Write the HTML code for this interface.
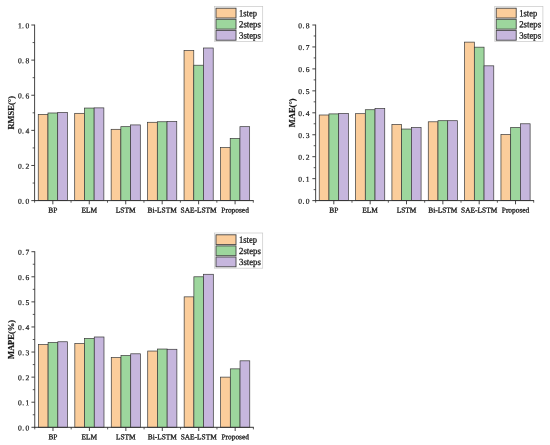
<!DOCTYPE html>
<html lang="en"><head><meta charset="utf-8"><title>Prediction error comparison</title>
<style>
html,body{margin:0;padding:0;background:#fff;}
body{width:550px;height:445px;overflow:hidden;}
svg{display:block;}
text{font-family:"Liberation Serif",serif;fill:#1a1a1a;stroke:#1a1a1a;stroke-width:0.22px;}
.tk{font-size:7.55px;}
.cat{font-size:7.4px;stroke-width:0.3px;}
.ttl{font-size:8.5px;font-weight:bold;stroke-width:0.2px;}
.lg{font-size:9.3px;stroke-width:0.3px;}
</style></head>
<body>
<svg width="550" height="445" viewBox="0 0 550 445">
<rect width="550" height="445" fill="#ffffff"/>
<rect x="38.25" y="114.38" width="9.72" height="86.22" fill="#FBCD9B" stroke="#383838" stroke-width="0.7"/>
<rect x="47.97" y="112.98" width="9.72" height="87.62" fill="#9DD69D" stroke="#383838" stroke-width="0.7"/>
<rect x="57.69" y="112.45" width="9.72" height="88.15" fill="#C6B6DD" stroke="#383838" stroke-width="0.7"/>
<rect x="74.70" y="113.33" width="9.72" height="87.27" fill="#FBCD9B" stroke="#383838" stroke-width="0.7"/>
<rect x="84.42" y="108.06" width="9.72" height="92.54" fill="#9DD69D" stroke="#383838" stroke-width="0.7"/>
<rect x="94.14" y="107.88" width="9.72" height="92.72" fill="#C6B6DD" stroke="#383838" stroke-width="0.7"/>
<rect x="111.14" y="129.31" width="9.72" height="71.29" fill="#FBCD9B" stroke="#383838" stroke-width="0.7"/>
<rect x="120.86" y="126.67" width="9.72" height="73.93" fill="#9DD69D" stroke="#383838" stroke-width="0.7"/>
<rect x="130.59" y="124.92" width="9.72" height="75.68" fill="#C6B6DD" stroke="#383838" stroke-width="0.7"/>
<rect x="147.60" y="122.28" width="9.72" height="78.32" fill="#FBCD9B" stroke="#383838" stroke-width="0.7"/>
<rect x="157.32" y="121.76" width="9.72" height="78.84" fill="#9DD69D" stroke="#383838" stroke-width="0.7"/>
<rect x="167.04" y="121.58" width="9.72" height="79.02" fill="#C6B6DD" stroke="#383838" stroke-width="0.7"/>
<rect x="184.05" y="50.46" width="9.72" height="150.14" fill="#FBCD9B" stroke="#383838" stroke-width="0.7"/>
<rect x="193.77" y="65.21" width="9.72" height="135.39" fill="#9DD69D" stroke="#383838" stroke-width="0.7"/>
<rect x="203.49" y="48.00" width="9.72" height="152.60" fill="#C6B6DD" stroke="#383838" stroke-width="0.7"/>
<rect x="220.50" y="147.57" width="9.72" height="53.03" fill="#FBCD9B" stroke="#383838" stroke-width="0.7"/>
<rect x="230.22" y="138.44" width="9.72" height="62.16" fill="#9DD69D" stroke="#383838" stroke-width="0.7"/>
<rect x="239.94" y="126.67" width="9.72" height="73.93" fill="#C6B6DD" stroke="#383838" stroke-width="0.7"/>
<line x1="34.6" y1="24.6" x2="34.6" y2="201.04999999999998" stroke="#303030" stroke-width="0.9"/>
<line x1="34.15" y1="200.6" x2="253.70000000000002" y2="200.6" stroke="#333" stroke-width="1.0"/>
<line x1="31.3" y1="200.60" x2="34.6" y2="200.60" stroke="#303030" stroke-width="0.9"/>
<line x1="32.6" y1="183.04" x2="34.6" y2="183.04" stroke="#303030" stroke-width="0.8"/>
<text class="tk" transform="rotate(0.04 17.90 203.75)" x="17.90 22.10 25.40" y="203.75">0.0</text>
<line x1="31.3" y1="165.48" x2="34.6" y2="165.48" stroke="#303030" stroke-width="0.9"/>
<line x1="32.6" y1="147.92" x2="34.6" y2="147.92" stroke="#303030" stroke-width="0.8"/>
<text class="tk" transform="rotate(0.04 17.90 168.63)" x="17.90 22.10 25.40" y="168.63">0.2</text>
<line x1="31.3" y1="130.36" x2="34.6" y2="130.36" stroke="#303030" stroke-width="0.9"/>
<line x1="32.6" y1="112.80" x2="34.6" y2="112.80" stroke="#303030" stroke-width="0.8"/>
<text class="tk" transform="rotate(0.04 17.90 133.51)" x="17.90 22.10 25.40" y="133.51">0.4</text>
<line x1="31.3" y1="95.24" x2="34.6" y2="95.24" stroke="#303030" stroke-width="0.9"/>
<line x1="32.6" y1="77.68" x2="34.6" y2="77.68" stroke="#303030" stroke-width="0.8"/>
<text class="tk" transform="rotate(0.04 17.90 98.39)" x="17.90 22.10 25.40" y="98.39">0.6</text>
<line x1="31.3" y1="60.12" x2="34.6" y2="60.12" stroke="#303030" stroke-width="0.9"/>
<line x1="32.6" y1="42.56" x2="34.6" y2="42.56" stroke="#303030" stroke-width="0.8"/>
<text class="tk" transform="rotate(0.04 17.90 63.27)" x="17.90 22.10 25.40" y="63.27">0.8</text>
<line x1="31.3" y1="25.00" x2="34.6" y2="25.00" stroke="#303030" stroke-width="0.9"/>
<text class="tk" transform="rotate(0.04 17.90 28.15)" x="17.90 22.10 25.40" y="28.15">1.0</text>
<line x1="34.60" y1="200.6" x2="34.60" y2="202.7" stroke="#333" stroke-width="0.8"/>
<line x1="71.05" y1="200.6" x2="71.05" y2="202.7" stroke="#333" stroke-width="0.8"/>
<line x1="107.50" y1="200.6" x2="107.50" y2="202.7" stroke="#333" stroke-width="0.8"/>
<line x1="143.95" y1="200.6" x2="143.95" y2="202.7" stroke="#333" stroke-width="0.8"/>
<line x1="180.40" y1="200.6" x2="180.40" y2="202.7" stroke="#333" stroke-width="0.8"/>
<line x1="216.85" y1="200.6" x2="216.85" y2="202.7" stroke="#333" stroke-width="0.8"/>
<line x1="253.30" y1="200.6" x2="253.30" y2="202.7" stroke="#333" stroke-width="0.8"/>
<line x1="52.83" y1="200.6" x2="52.83" y2="204.29999999999998" stroke="#333" stroke-width="0.9"/>
<text class="cat" transform="rotate(0.04 52.83 212.50)" x="52.83" y="212.50" text-anchor="middle">BP</text>
<line x1="89.28" y1="200.6" x2="89.28" y2="204.29999999999998" stroke="#333" stroke-width="0.9"/>
<text class="cat" transform="rotate(0.04 89.28 212.50)" x="89.28" y="212.50" text-anchor="middle">ELM</text>
<line x1="125.72" y1="200.6" x2="125.72" y2="204.29999999999998" stroke="#333" stroke-width="0.9"/>
<text class="cat" transform="rotate(0.04 125.72 212.50)" x="125.72" y="212.50" text-anchor="middle">LSTM</text>
<line x1="162.18" y1="200.6" x2="162.18" y2="204.29999999999998" stroke="#333" stroke-width="0.9"/>
<text class="cat" transform="rotate(0.04 162.18 212.50)" x="162.18" y="212.50" text-anchor="middle">Bi-LSTM</text>
<line x1="198.62" y1="200.6" x2="198.62" y2="204.29999999999998" stroke="#333" stroke-width="0.9"/>
<text class="cat" transform="rotate(0.04 198.62 212.50)" x="198.62" y="212.50" text-anchor="middle">SAE-LSTM</text>
<line x1="235.08" y1="200.6" x2="235.08" y2="204.29999999999998" stroke="#333" stroke-width="0.9"/>
<text class="cat" transform="rotate(0.04 235.08 212.50)" x="235.08" y="212.50" text-anchor="middle">Proposed</text>
<text class="ttl" transform="translate(13.90,112.80) rotate(-90)" text-anchor="middle">RMSE(°)</text>
<rect x="214.5" y="6.4" width="48.2" height="35.2" fill="#fff" stroke="#c8c8c8" stroke-width="0.7"/>
<rect x="216.00" y="8.20" width="20" height="9.8" fill="#FBCD9B" stroke="#444" stroke-width="0.9"/>
<text class="lg" transform="rotate(0.04 239.00 16.20)" x="239.00" y="16.20" textLength="18.0" lengthAdjust="spacingAndGlyphs">1step</text>
<rect x="216.00" y="19.30" width="20" height="9.8" fill="#9DD69D" stroke="#444" stroke-width="0.9"/>
<text class="lg" transform="rotate(0.04 239.00 27.30)" x="239.00" y="27.30" textLength="21.9" lengthAdjust="spacingAndGlyphs">2steps</text>
<rect x="216.00" y="30.40" width="20" height="9.8" fill="#C6B6DD" stroke="#444" stroke-width="0.9"/>
<text class="lg" transform="rotate(0.04 239.00 38.40)" x="239.00" y="38.40" textLength="21.9" lengthAdjust="spacingAndGlyphs">3steps</text>
<rect x="319.24" y="115.00" width="9.72" height="85.60" fill="#FBCD9B" stroke="#383838" stroke-width="0.7"/>
<rect x="328.96" y="113.90" width="9.72" height="86.70" fill="#9DD69D" stroke="#383838" stroke-width="0.7"/>
<rect x="338.68" y="113.46" width="9.72" height="87.14" fill="#C6B6DD" stroke="#383838" stroke-width="0.7"/>
<rect x="355.58" y="113.68" width="9.72" height="86.92" fill="#FBCD9B" stroke="#383838" stroke-width="0.7"/>
<rect x="365.30" y="109.73" width="9.72" height="90.87" fill="#9DD69D" stroke="#383838" stroke-width="0.7"/>
<rect x="375.02" y="108.41" width="9.72" height="92.19" fill="#C6B6DD" stroke="#383838" stroke-width="0.7"/>
<rect x="391.92" y="124.43" width="9.72" height="76.17" fill="#FBCD9B" stroke="#383838" stroke-width="0.7"/>
<rect x="401.64" y="129.04" width="9.72" height="71.56" fill="#9DD69D" stroke="#383838" stroke-width="0.7"/>
<rect x="411.36" y="127.51" width="9.72" height="73.09" fill="#C6B6DD" stroke="#383838" stroke-width="0.7"/>
<rect x="428.27" y="121.80" width="9.72" height="78.80" fill="#FBCD9B" stroke="#383838" stroke-width="0.7"/>
<rect x="437.99" y="120.70" width="9.72" height="79.90" fill="#9DD69D" stroke="#383838" stroke-width="0.7"/>
<rect x="447.71" y="120.70" width="9.72" height="79.90" fill="#C6B6DD" stroke="#383838" stroke-width="0.7"/>
<rect x="464.61" y="42.12" width="9.72" height="158.48" fill="#FBCD9B" stroke="#383838" stroke-width="0.7"/>
<rect x="474.33" y="47.17" width="9.72" height="153.43" fill="#9DD69D" stroke="#383838" stroke-width="0.7"/>
<rect x="484.05" y="65.83" width="9.72" height="134.77" fill="#C6B6DD" stroke="#383838" stroke-width="0.7"/>
<rect x="500.95" y="134.53" width="9.72" height="66.07" fill="#FBCD9B" stroke="#383838" stroke-width="0.7"/>
<rect x="510.67" y="127.51" width="9.72" height="73.09" fill="#9DD69D" stroke="#383838" stroke-width="0.7"/>
<rect x="520.39" y="123.78" width="9.72" height="76.82" fill="#C6B6DD" stroke="#383838" stroke-width="0.7"/>
<line x1="315.65" y1="24.6" x2="315.65" y2="201.04999999999998" stroke="#303030" stroke-width="0.9"/>
<line x1="315.2" y1="200.6" x2="534.1" y2="200.6" stroke="#333" stroke-width="1.0"/>
<line x1="312.34999999999997" y1="200.60" x2="315.65" y2="200.60" stroke="#303030" stroke-width="0.9"/>
<line x1="313.65" y1="189.62" x2="315.65" y2="189.62" stroke="#303030" stroke-width="0.8"/>
<text class="tk" transform="rotate(0.04 298.25 203.75)" x="298.25 302.45 305.75" y="203.75">0.0</text>
<line x1="312.34999999999997" y1="178.65" x2="315.65" y2="178.65" stroke="#303030" stroke-width="0.9"/>
<line x1="313.65" y1="167.68" x2="315.65" y2="167.68" stroke="#303030" stroke-width="0.8"/>
<text class="tk" transform="rotate(0.04 298.25 181.80)" x="298.25 302.45 305.75" y="181.80">0.1</text>
<line x1="312.34999999999997" y1="156.70" x2="315.65" y2="156.70" stroke="#303030" stroke-width="0.9"/>
<line x1="313.65" y1="145.72" x2="315.65" y2="145.72" stroke="#303030" stroke-width="0.8"/>
<text class="tk" transform="rotate(0.04 298.25 159.85)" x="298.25 302.45 305.75" y="159.85">0.2</text>
<line x1="312.34999999999997" y1="134.75" x2="315.65" y2="134.75" stroke="#303030" stroke-width="0.9"/>
<line x1="313.65" y1="123.78" x2="315.65" y2="123.78" stroke="#303030" stroke-width="0.8"/>
<text class="tk" transform="rotate(0.04 298.25 137.90)" x="298.25 302.45 305.75" y="137.90">0.3</text>
<line x1="312.34999999999997" y1="112.80" x2="315.65" y2="112.80" stroke="#303030" stroke-width="0.9"/>
<line x1="313.65" y1="101.83" x2="315.65" y2="101.83" stroke="#303030" stroke-width="0.8"/>
<text class="tk" transform="rotate(0.04 298.25 115.95)" x="298.25 302.45 305.75" y="115.95">0.4</text>
<line x1="312.34999999999997" y1="90.85" x2="315.65" y2="90.85" stroke="#303030" stroke-width="0.9"/>
<line x1="313.65" y1="79.88" x2="315.65" y2="79.88" stroke="#303030" stroke-width="0.8"/>
<text class="tk" transform="rotate(0.04 298.25 94.00)" x="298.25 302.45 305.75" y="94.00">0.5</text>
<line x1="312.34999999999997" y1="68.90" x2="315.65" y2="68.90" stroke="#303030" stroke-width="0.9"/>
<line x1="313.65" y1="57.93" x2="315.65" y2="57.93" stroke="#303030" stroke-width="0.8"/>
<text class="tk" transform="rotate(0.04 298.25 72.05)" x="298.25 302.45 305.75" y="72.05">0.6</text>
<line x1="312.34999999999997" y1="46.95" x2="315.65" y2="46.95" stroke="#303030" stroke-width="0.9"/>
<line x1="313.65" y1="35.97" x2="315.65" y2="35.97" stroke="#303030" stroke-width="0.8"/>
<text class="tk" transform="rotate(0.04 298.25 50.10)" x="298.25 302.45 305.75" y="50.10">0.7</text>
<line x1="312.34999999999997" y1="25.00" x2="315.65" y2="25.00" stroke="#303030" stroke-width="0.9"/>
<text class="tk" transform="rotate(0.04 298.25 28.15)" x="298.25 302.45 305.75" y="28.15">0.8</text>
<line x1="315.65" y1="200.6" x2="315.65" y2="202.7" stroke="#333" stroke-width="0.8"/>
<line x1="351.99" y1="200.6" x2="351.99" y2="202.7" stroke="#333" stroke-width="0.8"/>
<line x1="388.33" y1="200.6" x2="388.33" y2="202.7" stroke="#333" stroke-width="0.8"/>
<line x1="424.68" y1="200.6" x2="424.68" y2="202.7" stroke="#333" stroke-width="0.8"/>
<line x1="461.02" y1="200.6" x2="461.02" y2="202.7" stroke="#333" stroke-width="0.8"/>
<line x1="497.36" y1="200.6" x2="497.36" y2="202.7" stroke="#333" stroke-width="0.8"/>
<line x1="533.70" y1="200.6" x2="533.70" y2="202.7" stroke="#333" stroke-width="0.8"/>
<line x1="333.82" y1="200.6" x2="333.82" y2="204.29999999999998" stroke="#333" stroke-width="0.9"/>
<text class="cat" transform="rotate(0.04 333.82 212.50)" x="333.82" y="212.50" text-anchor="middle">BP</text>
<line x1="370.16" y1="200.6" x2="370.16" y2="204.29999999999998" stroke="#333" stroke-width="0.9"/>
<text class="cat" transform="rotate(0.04 370.16 212.50)" x="370.16" y="212.50" text-anchor="middle">ELM</text>
<line x1="406.50" y1="200.6" x2="406.50" y2="204.29999999999998" stroke="#333" stroke-width="0.9"/>
<text class="cat" transform="rotate(0.04 406.50 212.50)" x="406.50" y="212.50" text-anchor="middle">LSTM</text>
<line x1="442.85" y1="200.6" x2="442.85" y2="204.29999999999998" stroke="#333" stroke-width="0.9"/>
<text class="cat" transform="rotate(0.04 442.85 212.50)" x="442.85" y="212.50" text-anchor="middle">Bi-LSTM</text>
<line x1="479.19" y1="200.6" x2="479.19" y2="204.29999999999998" stroke="#333" stroke-width="0.9"/>
<text class="cat" transform="rotate(0.04 479.19 212.50)" x="479.19" y="212.50" text-anchor="middle">SAE-LSTM</text>
<line x1="515.53" y1="200.6" x2="515.53" y2="204.29999999999998" stroke="#333" stroke-width="0.9"/>
<text class="cat" transform="rotate(0.04 515.53 212.50)" x="515.53" y="212.50" text-anchor="middle">Proposed</text>
<text class="ttl" transform="translate(294.65,112.80) rotate(-90)" text-anchor="middle">MAE(°)</text>
<rect x="494.7" y="6.4" width="48.2" height="35.2" fill="#fff" stroke="#c8c8c8" stroke-width="0.7"/>
<rect x="496.20" y="8.20" width="20" height="9.8" fill="#FBCD9B" stroke="#444" stroke-width="0.9"/>
<text class="lg" transform="rotate(0.04 519.20 16.20)" x="519.20" y="16.20" textLength="18.0" lengthAdjust="spacingAndGlyphs">1step</text>
<rect x="496.20" y="19.30" width="20" height="9.8" fill="#9DD69D" stroke="#444" stroke-width="0.9"/>
<text class="lg" transform="rotate(0.04 519.20 27.30)" x="519.20" y="27.30" textLength="21.9" lengthAdjust="spacingAndGlyphs">2steps</text>
<rect x="496.20" y="30.40" width="20" height="9.8" fill="#C6B6DD" stroke="#444" stroke-width="0.9"/>
<text class="lg" transform="rotate(0.04 519.20 38.40)" x="519.20" y="38.40" textLength="21.9" lengthAdjust="spacingAndGlyphs">3steps</text>
<rect x="38.39" y="344.52" width="9.72" height="82.78" fill="#FBCD9B" stroke="#383838" stroke-width="0.7"/>
<rect x="48.11" y="342.51" width="9.72" height="84.79" fill="#9DD69D" stroke="#383838" stroke-width="0.7"/>
<rect x="57.83" y="341.76" width="9.72" height="85.54" fill="#C6B6DD" stroke="#383838" stroke-width="0.7"/>
<rect x="74.83" y="343.51" width="9.72" height="83.79" fill="#FBCD9B" stroke="#383838" stroke-width="0.7"/>
<rect x="84.55" y="338.50" width="9.72" height="88.80" fill="#9DD69D" stroke="#383838" stroke-width="0.7"/>
<rect x="94.27" y="336.99" width="9.72" height="90.31" fill="#C6B6DD" stroke="#383838" stroke-width="0.7"/>
<rect x="111.27" y="357.56" width="9.72" height="69.74" fill="#FBCD9B" stroke="#383838" stroke-width="0.7"/>
<rect x="120.99" y="355.55" width="9.72" height="71.75" fill="#9DD69D" stroke="#383838" stroke-width="0.7"/>
<rect x="130.71" y="353.80" width="9.72" height="73.50" fill="#C6B6DD" stroke="#383838" stroke-width="0.7"/>
<rect x="147.72" y="351.04" width="9.72" height="76.26" fill="#FBCD9B" stroke="#383838" stroke-width="0.7"/>
<rect x="157.44" y="349.03" width="9.72" height="78.27" fill="#9DD69D" stroke="#383838" stroke-width="0.7"/>
<rect x="167.16" y="349.28" width="9.72" height="78.02" fill="#C6B6DD" stroke="#383838" stroke-width="0.7"/>
<rect x="184.16" y="296.85" width="9.72" height="130.45" fill="#FBCD9B" stroke="#383838" stroke-width="0.7"/>
<rect x="193.88" y="276.79" width="9.72" height="150.51" fill="#9DD69D" stroke="#383838" stroke-width="0.7"/>
<rect x="203.60" y="274.28" width="9.72" height="153.02" fill="#C6B6DD" stroke="#383838" stroke-width="0.7"/>
<rect x="220.60" y="377.13" width="9.72" height="50.17" fill="#FBCD9B" stroke="#383838" stroke-width="0.7"/>
<rect x="230.32" y="368.85" width="9.72" height="58.45" fill="#9DD69D" stroke="#383838" stroke-width="0.7"/>
<rect x="240.04" y="360.82" width="9.72" height="66.48" fill="#C6B6DD" stroke="#383838" stroke-width="0.7"/>
<line x1="34.75" y1="251.29999999999998" x2="34.75" y2="427.75" stroke="#303030" stroke-width="0.9"/>
<line x1="34.3" y1="427.3" x2="253.8" y2="427.3" stroke="#333" stroke-width="1.0"/>
<line x1="31.45" y1="427.30" x2="34.75" y2="427.30" stroke="#303030" stroke-width="0.9"/>
<line x1="32.75" y1="414.76" x2="34.75" y2="414.76" stroke="#303030" stroke-width="0.8"/>
<text class="tk" transform="rotate(0.04 18.05 430.45)" x="18.05 22.25 25.55" y="430.45">0.0</text>
<line x1="31.45" y1="402.21" x2="34.75" y2="402.21" stroke="#303030" stroke-width="0.9"/>
<line x1="32.75" y1="389.67" x2="34.75" y2="389.67" stroke="#303030" stroke-width="0.8"/>
<text class="tk" transform="rotate(0.04 18.05 405.36)" x="18.05 22.25 25.55" y="405.36">0.1</text>
<line x1="31.45" y1="377.13" x2="34.75" y2="377.13" stroke="#303030" stroke-width="0.9"/>
<line x1="32.75" y1="364.59" x2="34.75" y2="364.59" stroke="#303030" stroke-width="0.8"/>
<text class="tk" transform="rotate(0.04 18.05 380.28)" x="18.05 22.25 25.55" y="380.28">0.2</text>
<line x1="31.45" y1="352.04" x2="34.75" y2="352.04" stroke="#303030" stroke-width="0.9"/>
<line x1="32.75" y1="339.50" x2="34.75" y2="339.50" stroke="#303030" stroke-width="0.8"/>
<text class="tk" transform="rotate(0.04 18.05 355.19)" x="18.05 22.25 25.55" y="355.19">0.3</text>
<line x1="31.45" y1="326.96" x2="34.75" y2="326.96" stroke="#303030" stroke-width="0.9"/>
<line x1="32.75" y1="314.41" x2="34.75" y2="314.41" stroke="#303030" stroke-width="0.8"/>
<text class="tk" transform="rotate(0.04 18.05 330.11)" x="18.05 22.25 25.55" y="330.11">0.4</text>
<line x1="31.45" y1="301.87" x2="34.75" y2="301.87" stroke="#303030" stroke-width="0.9"/>
<line x1="32.75" y1="289.33" x2="34.75" y2="289.33" stroke="#303030" stroke-width="0.8"/>
<text class="tk" transform="rotate(0.04 18.05 305.02)" x="18.05 22.25 25.55" y="305.02">0.5</text>
<line x1="31.45" y1="276.79" x2="34.75" y2="276.79" stroke="#303030" stroke-width="0.9"/>
<line x1="32.75" y1="264.24" x2="34.75" y2="264.24" stroke="#303030" stroke-width="0.8"/>
<text class="tk" transform="rotate(0.04 18.05 279.94)" x="18.05 22.25 25.55" y="279.94">0.6</text>
<line x1="31.45" y1="251.70" x2="34.75" y2="251.70" stroke="#303030" stroke-width="0.9"/>
<text class="tk" transform="rotate(0.04 18.05 254.85)" x="18.05 22.25 25.55" y="254.85">0.7</text>
<line x1="34.75" y1="427.3" x2="34.75" y2="429.40000000000003" stroke="#333" stroke-width="0.8"/>
<line x1="71.19" y1="427.3" x2="71.19" y2="429.40000000000003" stroke="#333" stroke-width="0.8"/>
<line x1="107.63" y1="427.3" x2="107.63" y2="429.40000000000003" stroke="#333" stroke-width="0.8"/>
<line x1="144.08" y1="427.3" x2="144.08" y2="429.40000000000003" stroke="#333" stroke-width="0.8"/>
<line x1="180.52" y1="427.3" x2="180.52" y2="429.40000000000003" stroke="#333" stroke-width="0.8"/>
<line x1="216.96" y1="427.3" x2="216.96" y2="429.40000000000003" stroke="#333" stroke-width="0.8"/>
<line x1="253.40" y1="427.3" x2="253.40" y2="429.40000000000003" stroke="#333" stroke-width="0.8"/>
<line x1="52.97" y1="427.3" x2="52.97" y2="431.0" stroke="#333" stroke-width="0.9"/>
<text class="cat" transform="rotate(0.04 52.97 439.20)" x="52.97" y="439.20" text-anchor="middle">BP</text>
<line x1="89.41" y1="427.3" x2="89.41" y2="431.0" stroke="#333" stroke-width="0.9"/>
<text class="cat" transform="rotate(0.04 89.41 439.20)" x="89.41" y="439.20" text-anchor="middle">ELM</text>
<line x1="125.85" y1="427.3" x2="125.85" y2="431.0" stroke="#333" stroke-width="0.9"/>
<text class="cat" transform="rotate(0.04 125.85 439.20)" x="125.85" y="439.20" text-anchor="middle">LSTM</text>
<line x1="162.30" y1="427.3" x2="162.30" y2="431.0" stroke="#333" stroke-width="0.9"/>
<text class="cat" transform="rotate(0.04 162.30 439.20)" x="162.30" y="439.20" text-anchor="middle">Bi-LSTM</text>
<line x1="198.74" y1="427.3" x2="198.74" y2="431.0" stroke="#333" stroke-width="0.9"/>
<text class="cat" transform="rotate(0.04 198.74 439.20)" x="198.74" y="439.20" text-anchor="middle">SAE-LSTM</text>
<line x1="235.18" y1="427.3" x2="235.18" y2="431.0" stroke="#333" stroke-width="0.9"/>
<text class="cat" transform="rotate(0.04 235.18 439.20)" x="235.18" y="439.20" text-anchor="middle">Proposed</text>
<text class="ttl" transform="translate(14.05,339.50) rotate(-90)" text-anchor="middle">MAPE(%)</text>
<rect x="214.5" y="233.0" width="48.2" height="35.2" fill="#fff" stroke="#c8c8c8" stroke-width="0.7"/>
<rect x="216.00" y="234.80" width="20" height="9.8" fill="#FBCD9B" stroke="#444" stroke-width="0.9"/>
<text class="lg" transform="rotate(0.04 239.00 242.80)" x="239.00" y="242.80" textLength="18.0" lengthAdjust="spacingAndGlyphs">1step</text>
<rect x="216.00" y="245.90" width="20" height="9.8" fill="#9DD69D" stroke="#444" stroke-width="0.9"/>
<text class="lg" transform="rotate(0.04 239.00 253.90)" x="239.00" y="253.90" textLength="21.9" lengthAdjust="spacingAndGlyphs">2steps</text>
<rect x="216.00" y="257.00" width="20" height="9.8" fill="#C6B6DD" stroke="#444" stroke-width="0.9"/>
<text class="lg" transform="rotate(0.04 239.00 265.00)" x="239.00" y="265.00" textLength="21.9" lengthAdjust="spacingAndGlyphs">3steps</text>
</svg>
</body></html>
